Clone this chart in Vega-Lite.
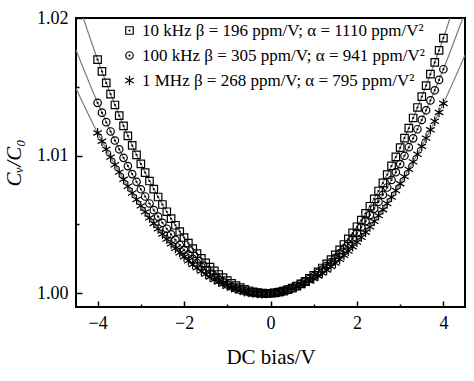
{
  "$schema": "https://vega.github.io/schema/vega-lite/v6.json",
  "width": 389,
  "height": 289,
  "autosize": "none",
  "padding": {"left": 76, "top": 18, "right": 9, "bottom": 74},
  "background": "white",
  "config": {
    "font": "Liberation Serif",
    "view": {"stroke": "black", "strokeWidth": 2},
    "axis": {"domain": false, "grid": false, "labelColor": "black", "titleColor": "black", "tickColor": "black", "labelFont": "Liberation Serif", "titleFont": "Liberation Serif", "labelFontSize": 18, "titleFontSize": 21, "titleFontWeight": "normal"},
    "legend": {"labelFont": "Liberation Serif", "labelFontSize": 17, "labelColor": "black", "labelLimit": 0}
  },
  "datasets": {
    "pts": [
      {"s":"A","v":-4.0,"y":1.016976},{"s":"A","v":-3.9,"y":1.016119},{"s":"A","v":-3.8,"y":1.015284},{"s":"A","v":-3.7,"y":1.014471},{"s":"A","v":-3.6,"y":1.01368},{"s":"A","v":-3.5,"y":1.012912},{"s":"A","v":-3.4,"y":1.012165},{"s":"A","v":-3.3,"y":1.011441},{"s":"A","v":-3.2,"y":1.010739},{"s":"A","v":-3.1,"y":1.01006},
      {"s":"A","v":-3.0,"y":1.009402},{"s":"A","v":-2.9,"y":1.008767},{"s":"A","v":-2.8,"y":1.008154},{"s":"A","v":-2.7,"y":1.007563},{"s":"A","v":-2.6,"y":1.006994},{"s":"A","v":-2.5,"y":1.006448},{"s":"A","v":-2.4,"y":1.005923},{"s":"A","v":-2.3,"y":1.005421},{"s":"A","v":-2.2,"y":1.004941},{"s":"A","v":-2.1,"y":1.004484},
      {"s":"A","v":-2.0,"y":1.004048},{"s":"A","v":-1.9,"y":1.003635},{"s":"A","v":-1.8,"y":1.003244},{"s":"A","v":-1.7,"y":1.002875},{"s":"A","v":-1.6,"y":1.002528},{"s":"A","v":-1.5,"y":1.002204},{"s":"A","v":-1.4,"y":1.001901},{"s":"A","v":-1.3,"y":1.001621},{"s":"A","v":-1.2,"y":1.001363},{"s":"A","v":-1.1,"y":1.001128},
      {"s":"A","v":-1.0,"y":1.000914},{"s":"A","v":-0.9,"y":1.000723},{"s":"A","v":-0.8,"y":1.000554},{"s":"A","v":-0.7,"y":1.000407},{"s":"A","v":-0.6,"y":1.000282},{"s":"A","v":-0.5,"y":1.00018},{"s":"A","v":-0.4,"y":1.000099},{"s":"A","v":-0.3,"y":1.000041},{"s":"A","v":-0.2,"y":1.000005},{"s":"A","v":-0.1,"y":0.999992},
      {"s":"A","v":0.0,"y":1.0},{"s":"A","v":0.1,"y":1.000031},{"s":"A","v":0.2,"y":1.000084},{"s":"A","v":0.3,"y":1.000159},{"s":"A","v":0.4,"y":1.000256},{"s":"A","v":0.5,"y":1.000376},{"s":"A","v":0.6,"y":1.000517},{"s":"A","v":0.7,"y":1.000681},{"s":"A","v":0.8,"y":1.000867},{"s":"A","v":0.9,"y":1.001076},
      {"s":"A","v":1.0,"y":1.001306},{"s":"A","v":1.1,"y":1.001559},{"s":"A","v":1.2,"y":1.001834},{"s":"A","v":1.3,"y":1.002131},{"s":"A","v":1.4,"y":1.00245},{"s":"A","v":1.5,"y":1.002792},{"s":"A","v":1.6,"y":1.003155},{"s":"A","v":1.7,"y":1.003541},{"s":"A","v":1.8,"y":1.003949},{"s":"A","v":1.9,"y":1.00438},
      {"s":"A","v":2.0,"y":1.004832},{"s":"A","v":2.1,"y":1.005307},{"s":"A","v":2.2,"y":1.005804},{"s":"A","v":2.3,"y":1.006323},{"s":"A","v":2.4,"y":1.006864},{"s":"A","v":2.5,"y":1.007428},{"s":"A","v":2.6,"y":1.008013},{"s":"A","v":2.7,"y":1.008621},{"s":"A","v":2.8,"y":1.009251},{"s":"A","v":2.9,"y":1.009904},
      {"s":"A","v":3.0,"y":1.010578},{"s":"A","v":3.1,"y":1.011275},{"s":"A","v":3.2,"y":1.011994},{"s":"A","v":3.3,"y":1.012735},{"s":"A","v":3.4,"y":1.013498},{"s":"A","v":3.5,"y":1.014284},{"s":"A","v":3.6,"y":1.015091},{"s":"A","v":3.7,"y":1.015921},{"s":"A","v":3.8,"y":1.016773},{"s":"A","v":3.9,"y":1.017648},
      {"s":"A","v":4.0,"y":1.018544},
      {"s":"B","v":-4.0,"y":1.013836},{"s":"B","v":-3.9,"y":1.013123},{"s":"B","v":-3.8,"y":1.012429},{"s":"B","v":-3.7,"y":1.011754},{"s":"B","v":-3.6,"y":1.011097},{"s":"B","v":-3.5,"y":1.01046},{"s":"B","v":-3.4,"y":1.009841},{"s":"B","v":-3.3,"y":1.009241},{"s":"B","v":-3.2,"y":1.00866},{"s":"B","v":-3.1,"y":1.008098},
      {"s":"B","v":-3.0,"y":1.007554},{"s":"B","v":-2.9,"y":1.007029},{"s":"B","v":-2.8,"y":1.006523},{"s":"B","v":-2.7,"y":1.006036},{"s":"B","v":-2.6,"y":1.005568},{"s":"B","v":-2.5,"y":1.005119},{"s":"B","v":-2.4,"y":1.004688},{"s":"B","v":-2.3,"y":1.004276},{"s":"B","v":-2.2,"y":1.003883},{"s":"B","v":-2.1,"y":1.003509},
      {"s":"B","v":-2.0,"y":1.003154},{"s":"B","v":-1.9,"y":1.002818},{"s":"B","v":-1.8,"y":1.0025},{"s":"B","v":-1.7,"y":1.002201},{"s":"B","v":-1.6,"y":1.001921},{"s":"B","v":-1.5,"y":1.00166},{"s":"B","v":-1.4,"y":1.001417},{"s":"B","v":-1.3,"y":1.001194},{"s":"B","v":-1.2,"y":1.000989},{"s":"B","v":-1.1,"y":1.000803},
      {"s":"B","v":-1.0,"y":1.000636},{"s":"B","v":-0.9,"y":1.000488},{"s":"B","v":-0.8,"y":1.000358},{"s":"B","v":-0.7,"y":1.000248},{"s":"B","v":-0.6,"y":1.000156},{"s":"B","v":-0.5,"y":1.000083},{"s":"B","v":-0.4,"y":1.000029},{"s":"B","v":-0.3,"y":0.999993},{"s":"B","v":-0.2,"y":0.999977},{"s":"B","v":-0.1,"y":0.999979},
      {"s":"B","v":0.0,"y":1.0},{"s":"B","v":0.1,"y":1.00004},{"s":"B","v":0.2,"y":1.000099},{"s":"B","v":0.3,"y":1.000176},{"s":"B","v":0.4,"y":1.000273},{"s":"B","v":0.5,"y":1.000388},{"s":"B","v":0.6,"y":1.000522},{"s":"B","v":0.7,"y":1.000675},{"s":"B","v":0.8,"y":1.000846},{"s":"B","v":0.9,"y":1.001037},
      {"s":"B","v":1.0,"y":1.001246},{"s":"B","v":1.1,"y":1.001474},{"s":"B","v":1.2,"y":1.001721},{"s":"B","v":1.3,"y":1.001987},{"s":"B","v":1.4,"y":1.002271},{"s":"B","v":1.5,"y":1.002575},{"s":"B","v":1.6,"y":1.002897},{"s":"B","v":1.7,"y":1.003238},{"s":"B","v":1.8,"y":1.003598},{"s":"B","v":1.9,"y":1.003977},
      {"s":"B","v":2.0,"y":1.004374},{"s":"B","v":2.1,"y":1.00479},{"s":"B","v":2.2,"y":1.005225},{"s":"B","v":2.3,"y":1.005679},{"s":"B","v":2.4,"y":1.006152},{"s":"B","v":2.5,"y":1.006644},{"s":"B","v":2.6,"y":1.007154},{"s":"B","v":2.7,"y":1.007683},{"s":"B","v":2.8,"y":1.008231},{"s":"B","v":2.9,"y":1.008798},
      {"s":"B","v":3.0,"y":1.009384},{"s":"B","v":3.1,"y":1.009989},{"s":"B","v":3.2,"y":1.010612},{"s":"B","v":3.3,"y":1.011254},{"s":"B","v":3.4,"y":1.011915},{"s":"B","v":3.5,"y":1.012595},{"s":"B","v":3.6,"y":1.013293},{"s":"B","v":3.7,"y":1.014011},{"s":"B","v":3.8,"y":1.014747},{"s":"B","v":3.9,"y":1.015502},
      {"s":"B","v":4.0,"y":1.016276},
      {"s":"C","v":-4.0,"y":1.011648},{"s":"C","v":-3.9,"y":1.011047},{"s":"C","v":-3.8,"y":1.010461},{"s":"C","v":-3.7,"y":1.009892},{"s":"C","v":-3.6,"y":1.009338},{"s":"C","v":-3.5,"y":1.008801},{"s":"C","v":-3.4,"y":1.008279},{"s":"C","v":-3.3,"y":1.007773},{"s":"C","v":-3.2,"y":1.007283},{"s":"C","v":-3.1,"y":1.006809},
      {"s":"C","v":-3.0,"y":1.006351},{"s":"C","v":-2.9,"y":1.005909},{"s":"C","v":-2.8,"y":1.005482},{"s":"C","v":-2.7,"y":1.005072},{"s":"C","v":-2.6,"y":1.004677},{"s":"C","v":-2.5,"y":1.004299},{"s":"C","v":-2.4,"y":1.003936},{"s":"C","v":-2.3,"y":1.003589},{"s":"C","v":-2.2,"y":1.003258},{"s":"C","v":-2.1,"y":1.002943},
      {"s":"C","v":-2.0,"y":1.002644},{"s":"C","v":-1.9,"y":1.002361},{"s":"C","v":-1.8,"y":1.002093},{"s":"C","v":-1.7,"y":1.001842},{"s":"C","v":-1.6,"y":1.001606},{"s":"C","v":-1.5,"y":1.001387},{"s":"C","v":-1.4,"y":1.001183},{"s":"C","v":-1.3,"y":1.000995},{"s":"C","v":-1.2,"y":1.000823},{"s":"C","v":-1.1,"y":1.000667},
      {"s":"C","v":-1.0,"y":1.000527},{"s":"C","v":-0.9,"y":1.000403},{"s":"C","v":-0.8,"y":1.000294},{"s":"C","v":-0.7,"y":1.000202},{"s":"C","v":-0.6,"y":1.000125},{"s":"C","v":-0.5,"y":1.000065},{"s":"C","v":-0.4,"y":1.00002},{"s":"C","v":-0.3,"y":0.999991},{"s":"C","v":-0.2,"y":0.999978},{"s":"C","v":-0.1,"y":0.999981},
      {"s":"C","v":0.0,"y":1.0},{"s":"C","v":0.1,"y":1.000035},{"s":"C","v":0.2,"y":1.000085},{"s":"C","v":0.3,"y":1.000152},{"s":"C","v":0.4,"y":1.000234},{"s":"C","v":0.5,"y":1.000333},{"s":"C","v":0.6,"y":1.000447},{"s":"C","v":0.7,"y":1.000577},{"s":"C","v":0.8,"y":1.000723},{"s":"C","v":0.9,"y":1.000885},
      {"s":"C","v":1.0,"y":1.001063},{"s":"C","v":1.1,"y":1.001257},{"s":"C","v":1.2,"y":1.001466},{"s":"C","v":1.3,"y":1.001692},{"s":"C","v":1.4,"y":1.001933},{"s":"C","v":1.5,"y":1.002191},{"s":"C","v":1.6,"y":1.002464},{"s":"C","v":1.7,"y":1.002753},{"s":"C","v":1.8,"y":1.003058},{"s":"C","v":1.9,"y":1.003379},
      {"s":"C","v":2.0,"y":1.003716},{"s":"C","v":2.1,"y":1.004069},{"s":"C","v":2.2,"y":1.004437},{"s":"C","v":2.3,"y":1.004822},{"s":"C","v":2.4,"y":1.005222},{"s":"C","v":2.5,"y":1.005639},{"s":"C","v":2.6,"y":1.006071},{"s":"C","v":2.7,"y":1.006519},{"s":"C","v":2.8,"y":1.006983},{"s":"C","v":2.9,"y":1.007463},
      {"s":"C","v":3.0,"y":1.007959},{"s":"C","v":3.1,"y":1.008471},{"s":"C","v":3.2,"y":1.008998},{"s":"C","v":3.3,"y":1.009542},{"s":"C","v":3.4,"y":1.010101},{"s":"C","v":3.5,"y":1.010677},{"s":"C","v":3.6,"y":1.011268},{"s":"C","v":3.7,"y":1.011875},{"s":"C","v":3.8,"y":1.012498},{"s":"C","v":3.9,"y":1.013137},
      {"s":"C","v":4.0,"y":1.013792}
    ],
    "fit": [
      {"s":"A","v":-4.5,"y":1.021596},{"s":"A","v":-4.0,"y":1.016976},{"s":"A","v":-3.5,"y":1.012912},{"s":"A","v":-3.0,"y":1.009402},{"s":"A","v":-2.5,"y":1.006448},{"s":"A","v":-2.0,"y":1.004048},{"s":"A","v":-1.5,"y":1.002204},{"s":"A","v":-1.0,"y":1.000914},{"s":"A","v":-0.5,"y":1.00018},{"s":"A","v":0.0,"y":1.0},{"s":"A","v":0.5,"y":1.000376},{"s":"A","v":1.0,"y":1.001306},{"s":"A","v":1.5,"y":1.002792},{"s":"A","v":2.0,"y":1.004832},{"s":"A","v":2.5,"y":1.007428},{"s":"A","v":3.0,"y":1.010578},{"s":"A","v":3.5,"y":1.014284},{"s":"A","v":4.0,"y":1.018544},{"s":"A","v":4.5,"y":1.02336},
      {"s":"B","v":-4.5,"y":1.017683},{"s":"B","v":-4.0,"y":1.013836},{"s":"B","v":-3.5,"y":1.01046},{"s":"B","v":-3.0,"y":1.007554},{"s":"B","v":-2.5,"y":1.005119},{"s":"B","v":-2.0,"y":1.003154},{"s":"B","v":-1.5,"y":1.00166},{"s":"B","v":-1.0,"y":1.000636},{"s":"B","v":-0.5,"y":1.000083},{"s":"B","v":0.0,"y":1.0},{"s":"B","v":0.5,"y":1.000388},{"s":"B","v":1.0,"y":1.001246},{"s":"B","v":1.5,"y":1.002575},{"s":"B","v":2.0,"y":1.004374},{"s":"B","v":2.5,"y":1.006644},{"s":"B","v":3.0,"y":1.009384},{"s":"B","v":3.5,"y":1.012595},{"s":"B","v":4.0,"y":1.016276},{"s":"B","v":4.5,"y":1.020428},
      {"s":"C","v":-4.5,"y":1.014893},{"s":"C","v":-4.0,"y":1.011648},{"s":"C","v":-3.5,"y":1.008801},{"s":"C","v":-3.0,"y":1.006351},{"s":"C","v":-2.5,"y":1.004299},{"s":"C","v":-2.0,"y":1.002644},{"s":"C","v":-1.5,"y":1.001387},{"s":"C","v":-1.0,"y":1.000527},{"s":"C","v":-0.5,"y":1.000065},{"s":"C","v":0.0,"y":1.0},{"s":"C","v":0.5,"y":1.000333},{"s":"C","v":1.0,"y":1.001063},{"s":"C","v":1.5,"y":1.002191},{"s":"C","v":2.0,"y":1.003716},{"s":"C","v":2.5,"y":1.005639},{"s":"C","v":3.0,"y":1.007959},{"s":"C","v":3.5,"y":1.010677},{"s":"C","v":4.0,"y":1.013792},{"s":"C","v":4.5,"y":1.017305}
    ]
  },
  "encoding": {
    "x": {
      "field": "v", "type": "quantitative",
      "scale": {"domain": [-4.5, 4.5], "nice": false, "zero": false},
      "axis": {
        "title": "DC bias/V", "titlePadding": 14,
        "values": [-4, -3, -2, -1, 0, 1, 2, 3, 4],
        "labelExpr": "datum.value % 2 == 0 ? (datum.value < 0 ? '\u2212' + abs(datum.value) : '' + datum.value) : ''",
        "tickSize": {"condition": {"test": "datum.value % 2 != 0", "value": -3}, "value": -6},
        "tickWidth": 1.5, "labelPadding": 13
      }
    },
    "y": {
      "field": "y", "type": "quantitative",
      "scale": {"domain": [0.999, 1.02], "nice": false, "zero": false},
      "axis": {
        "title": "C\u1d65/C\u2080", "titleFontStyle": "italic", "titlePadding": 12,
        "values": [1.0, 1.005, 1.01, 1.015, 1.02],
        "labelExpr": "abs(datum.value * 100 - round(datum.value * 100)) > 0.1 ? '' : format(datum.value, '.2f')",
        "tickSize": {"condition": {"test": "abs(datum.value * 100 - round(datum.value * 100)) > 0.1", "value": -3}, "value": -6},
        "tickWidth": 1.5, "labelPadding": 14
      }
    }
  },
  "layer": [
    {
      "data": {"name": "fit"},
      "mark": {"type": "line", "color": "#7a7a7a", "strokeWidth": 1.2, "clip": true, "interpolate": "monotone"},
      "encoding": {"detail": {"field": "s"}}
    },
    {
      "data": {"name": "pts"},
      "mark": {"type": "point", "filled": false, "color": "black", "strokeWidth": 1.2, "size": 56, "opacity": 1},
      "encoding": {
        "shape": {
          "field": "s", "type": "nominal",
          "scale": {"domain": ["A", "B", "C"], "range": [
            "M-1,-1H1V1H-1Z M-0.12,0A0.12,0.12 0 1,0 0.12,0A0.12,0.12 0 1,0 -0.12,0Z",
            "M-1,0A1,1 0 1,0 1,0A1,1 0 1,0 -1,0Z M-0.12,0A0.12,0.12 0 1,0 0.12,0A0.12,0.12 0 1,0 -0.12,0Z",
            "M0,-1.3L0,1.3M-1.13,-0.65L1.13,0.65M-1.13,0.65L1.13,-0.65"
          ]},
          "legend": {
            "title": null, "orient": "none", "legendX": 45, "legendY": 4,
            "rowPadding": 7, "symbolSize": 56, "symbolStrokeColor": "black", "symbolStrokeWidth": 1.2,
            "labelExpr": "datum.label == 'A' ? '10 kHz  β = 196 ppm/V;  α = 1110 ppm/V²' : datum.label == 'B' ? '100 kHz  β = 305 ppm/V;  α = 941 ppm/V²' : '1 MHz  β = 268 ppm/V;  α = 795 ppm/V²'"
          }
        }
      }
    }
  ]
}
